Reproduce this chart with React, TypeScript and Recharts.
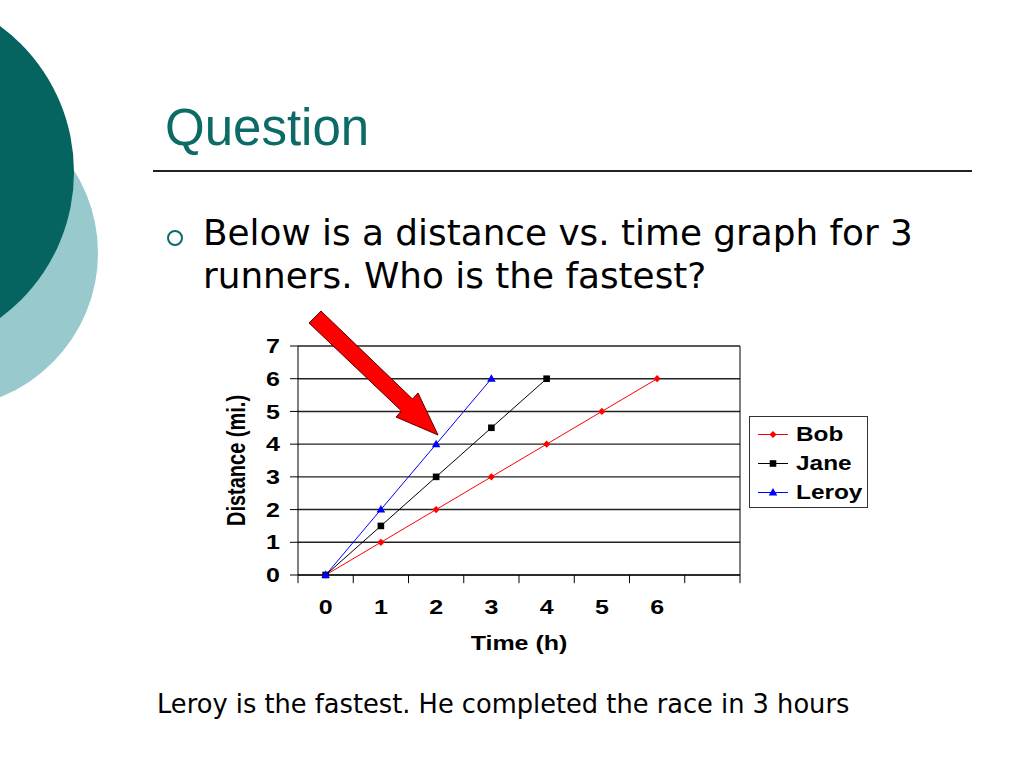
import React from "react";
import {
  CartesianGrid,
  Label,
  Line,
  LineChart,
  ReferenceLine,
  XAxis,
  YAxis,
} from "recharts";

// values
const hours = [0, 1, 2, 3, 4, 5, 6];
const bobMiles = [0, 1, 2, 3, 4, 5, 6];
const janeMiles = [0, 1.5, 3, 4.5, 6];
const leroyMiles = [0, 2, 4, 6];
const mileTicks = [0, 1, 2, 3, 4, 5, 6, 7];
// Excel category axis: ticks sit between categories, one empty slot at the end
const categoryEdges = [-0.5, 0.5, 1.5, 2.5, 3.5, 4.5, 5.5, 6.5, 7.5];

const series = [
  { key: "bob", name: "Bob", color: "#ff0000", symbol: "diamond" },
  { key: "jane", name: "Jane", color: "#000000", symbol: "square" },
  { key: "leroy", name: "Leroy", color: "#0000ff", symbol: "triangle" },
] as const;

const data = hours.map((h, i) => ({
  hour: h,
  bob: bobMiles[i],
  jane: janeMiles[i],
  leroy: leroyMiles[i],
}));

const AXIS_FONT = "'Liberation Sans', Arial, sans-serif";
const STRETCH = 1.25; // the pasted Excel chart is stretched sideways

function Marker({ cx, cy, symbol, color }: { cx: number; cy: number; symbol: string; color: string }) {
  if (symbol === "diamond") {
    const r = 3.6;
    return <polygon points={`${cx},${cy - r} ${cx + r},${cy} ${cx},${cy + r} ${cx - r},${cy}`} fill={color} />;
  }
  if (symbol === "square") {
    return <rect x={cx - 3.3} y={cy - 3.3} width={6.6} height={6.6} fill={color} />;
  }
  return <polygon points={`${cx},${cy - 4.5} ${cx + 4.3},${cy + 3} ${cx - 4.3},${cy + 3}`} fill={color} />;
}

function YTick(props: any) {
  const { x, y, payload } = props;
  return (
    <text
      transform={`translate(${x},${y}) scale(${STRETCH},1)`}
      textAnchor="end"
      dy="0.36em"
      fontFamily={AXIS_FONT}
      fontWeight="bold"
      fontSize={20}
      fill="#000"
    >
      {payload.value}
    </text>
  );
}

function XTick(props: any) {
  const { x, y, payload } = props;
  return (
    <text
      transform={`translate(${x},${y}) scale(${STRETCH},1)`}
      textAnchor="middle"
      dy="0.71em"
      fontFamily={AXIS_FONT}
      fontWeight="bold"
      fontSize={20}
      fill="#000"
    >
      {payload.value}
    </text>
  );
}

function makeDot(symbol: string, color: string) {
  return (p: any) => {
    const k = p.key ?? `${symbol}-${p.index}`;
    if (p.value == null || p.cy == null) return <g key={k} />;
    return (
      <g key={k}>
        <Marker cx={p.cx} cy={p.cy} symbol={symbol} color={color} />
      </g>
    );
  };
}

function RunnerChart() {
  return (
    <LineChart
      width={560}
      height={340}
      data={data}
      margin={{ top: 16, right: 20, left: 10, bottom: 15 }}
    >
      <CartesianGrid vertical={false} stroke="#222" strokeWidth={1.4} />
      <XAxis
        dataKey="hour"
        type="number"
        domain={[-0.5, 7.5]}
        ticks={hours}
        allowDataOverflow
        tickLine={false}
        tickSize={8}
        tickMargin={17}
        tick={<XTick />}
        axisLine={{ stroke: "#000" }}
        height={80}
      >
        <Label
          content={(p: any) => {
            const vb = p.viewBox;
            return (
              <text
                transform={`translate(${vb.x + vb.width / 2},${vb.y + 68}) scale(${STRETCH},1)`}
                textAnchor="middle"
                dy="0.36em"
                fontFamily={AXIS_FONT}
                fontWeight="bold"
                fontSize={20}
                fill="#000"
              >
                Time (h)
              </text>
            );
          }}
        />
      </XAxis>
      <YAxis
        type="number"
        domain={[0, 7]}
        ticks={mileTicks}
        width={88}
        tickSize={8}
        tickMargin={10}
        tickLine={{ stroke: "#000" }}
        axisLine={{ stroke: "#000" }}
        tick={<YTick />}
      >
        <Label
          content={(p: any) => {
            const vb = p.viewBox;
            return (
              <text
                transform={`translate(${vb.x + 26},${vb.y + vb.height / 2}) scale(1.3,1) rotate(-90)`}
                textAnchor="middle"
                dy="0.36em"
                fontFamily={AXIS_FONT}
                fontWeight="bold"
                fontSize={20}
                fill="#000"
              >
                Distance (mi.)
              </text>
            );
          }}
        />
      </YAxis>
      {categoryEdges.map((e) => (
        <ReferenceLine
          key={e}
          segment={[
            { x: e, y: 0 },
            { x: e, y: -0.25 },
          ]}
          ifOverflow="visible"
          stroke="#000"
        />
      ))}
      <ReferenceLine x={7.5} stroke="#000" ifOverflow="visible" />
      {series.map((s) => (
        <Line
          key={s.key}
          dataKey={s.key}
          name={s.name}
          stroke={s.color}
          strokeWidth={1}
          dot={makeDot(s.symbol, s.color)}
          activeDot={false}
          isAnimationActive={false}
        />
      ))}
    </LineChart>
  );
}

function ChartLegend() {
  return (
    <div
      style={{
        position: "absolute",
        left: 749,
        top: 416,
        width: 117,
        height: 87,
        border: "1px solid #333",
        background: "#fff",
        paddingTop: 3,
        boxSizing: "content-box",
      }}
    >
      {series.map((s) => (
        <div key={s.key} style={{ height: 29, display: "flex", alignItems: "center" }}>
          <svg width={46} height={29} style={{ flex: "none" }}>
            <line x1={8} y1={14.5} x2={38} y2={14.5} stroke={s.color} strokeWidth={1} />
            <Marker cx={23} cy={14.5} symbol={s.symbol} color={s.color} />
          </svg>
          <span
            style={{
              fontFamily: AXIS_FONT,
              fontWeight: "bold",
              fontSize: 20,
              transform: `scaleX(1.22)`,
              transformOrigin: "left center",
              lineHeight: "29px",
            }}
          >
            {s.name}
          </span>
        </div>
      ))}
    </div>
  );
}

export default function App() {
  return (
    <div
      style={{
        position: "absolute",
        left: 0,
        top: 0,
        width: 1024,
        height: 768,
        background: "#fff",
        overflow: "hidden",
      }}
    >
      <svg width={1024} height={768} style={{ position: "absolute", left: 0, top: 0 }}>
        <circle cx={-57} cy={253} r={155} fill="#98c9cc" />
        <circle cx={-107} cy={172} r={181} fill="#05645f" />
      </svg>
      <div
        style={{
          position: "absolute",
          left: 165,
          top: 102,
          fontFamily: "'Liberation Sans', Arial, sans-serif",
          fontSize: 51,
          lineHeight: "51px",
          color: "#0c6b66",
          whiteSpace: "nowrap",
        }}
      >
        Question
      </div>
      <div style={{ position: "absolute", left: 153, top: 170, width: 819, height: 2, background: "#222" }} />
      <div
        style={{
          position: "absolute",
          left: 167,
          top: 230,
          width: 12,
          height: 12,
          border: "2px solid #0c6b66",
          borderRadius: "50%",
        }}
      />
      <div
        style={{
          position: "absolute",
          left: 203,
          top: 211,
          fontFamily: "'DejaVu Sans', Verdana, sans-serif",
          fontSize: 35.8,
          lineHeight: "43px",
          color: "#000",
          whiteSpace: "nowrap",
        }}
      >
        Below is a distance vs. time graph for 3
        <br />
        runners. Who is the fastest?
      </div>
      <div style={{ position: "absolute", left: 200, top: 330 }}>
        <RunnerChart />
      </div>
      <ChartLegend />
      <svg
        width={1024}
        height={768}
        style={{ position: "absolute", left: 0, top: 0, pointerEvents: "none" }}
      >
        <polygon
          points="309,323 321,311 412.5,399 418,393 438,435 396,417 401.5,411"
          fill="#ff0000"
          stroke="#5a0000"
          strokeWidth={1}
          strokeLinejoin="miter"
        />
      </svg>
      <div
        style={{
          position: "absolute",
          left: 157,
          top: 689,
          fontFamily: "'DejaVu Sans', Verdana, sans-serif",
          fontSize: 25.7,
          lineHeight: "30px",
          color: "#000",
          whiteSpace: "nowrap",
        }}
      >
        Leroy is the fastest. He completed the race in 3 hours
      </div>
    </div>
  );
}
